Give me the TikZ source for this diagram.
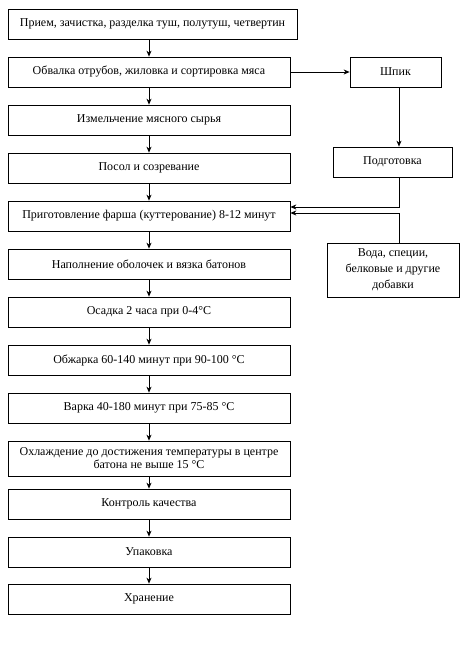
\documentclass[tikz,border=0pt]{standalone}
\usepackage{fontspec}
\setmainfont{Liberation Serif}
\usetikzlibrary{arrows.meta}
\begin{document}
\begin{tikzpicture}[x=1pt,y=-1pt,
  box/.style={draw, line width=0.7pt, minimum width=282pt, minimum height=30pt, inner sep=1pt,
    font=\fontsize{12}{13}\selectfont, align=center},
  arr/.style={-{Stealth[length=6pt,width=5pt]}, line width=0.7pt}]
\useasboundingbox (0,0) rectangle (474,663);
\node[box, minimum width=289pt] (b1) at (152.5,24) {Прием, зачистка, разделка туш, полутуш, четвертин};
\node[box] (b2) at (149,72) {Обвалка отрубов, жиловка и сортировка мяса};
\node[box] (b3) at (149,120) {Измельчение мясного сырья};
\node[box] (b4) at (149,168) {Посол и созревание};
\node[box] (b5) at (149,216) {Приготовление фарша (куттерование) 8-12 минут};
\node[box] (b6) at (149,264) {Наполнение оболочек и вязка батонов};
\node[box] (b7) at (149,312) {Осадка 2 часа при 0-4°С};
\node[box] (b8) at (149,360) {Обжарка 60-140 минут при 90-100 °С};
\node[box] (b9) at (149,408) {Варка 40-180 минут при 75-85 °С};
\node[box, minimum height=35pt] (b10) at (149,458.5) {Охлаждение до достижения температуры в центре\\батона не выше 15 °С};
\node[box] (b11) at (149,504) {Контроль качества};
\node[box] (b12) at (149,552) {Упаковка};
\node[box] (b13) at (149,599) {Хранение};
\node[box, minimum width=91pt] (shpik) at (395.5,72) {Шпик};
\node[box, minimum width=119pt] (podg) at (392.5,162) {Подготовка};
\node[box, minimum width=132pt, minimum height=54pt, font=\fontsize{12}{16}\selectfont] (voda) at (393,270) {Вода, специи,\\белковые и другие\\добавки};
\foreach \a/\b in {b1/b2,b2/b3,b3/b4,b4/b5,b5/b6,b6/b7,b7/b8,b8/b9,b9/b10,b10/b11,b11/b12,b12/b13}
  \draw[arr] (\a.south -| b2.center) -- (\b.north -| b2.center);
\draw[arr] (b2.east) -- (shpik.west);
\draw[arr] ([xshift=3.5pt]shpik.south) -- ([xshift=3.5pt]shpik.south |- podg.north);
\draw[arr] ([xshift=6.5pt]podg.south) |- ([yshift=9pt]b5.east);
\draw[arr] ([xshift=6pt]voda.north) |- ([yshift=3pt]b5.east);
\end{tikzpicture}
\end{document}
